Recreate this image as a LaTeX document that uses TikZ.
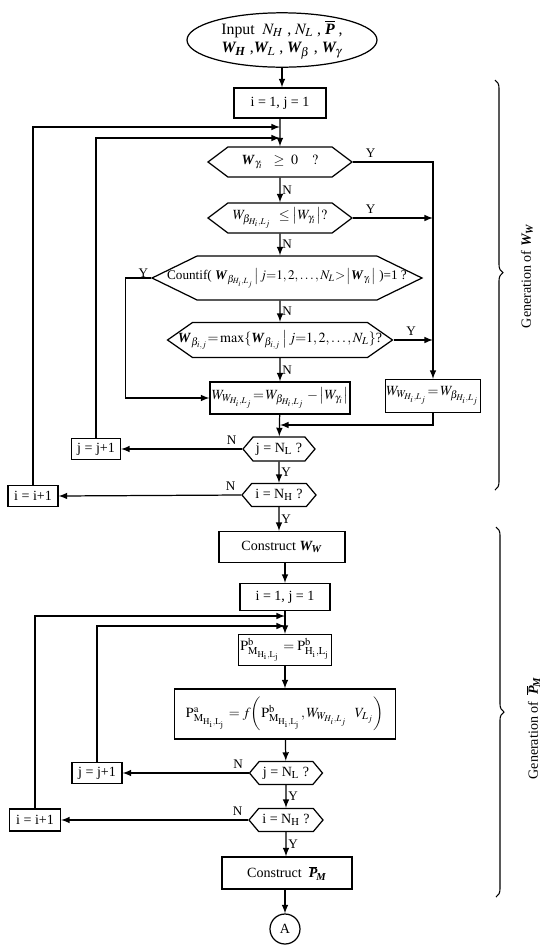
\documentclass[tikz,border=0pt]{standalone}
\usepackage{amsmath}
\usepackage{mathptmx}
\usepackage[no-math]{fontspec}
\setmainfont{Liberation Serif}
\usetikzlibrary{arrows,positioning,shapes.geometric,shapes.symbols,decorations.pathreplacing}
\newcommand{\bi}[1]{\textbf{\textit{#1}}}

\begin{document}
\begin{tikzpicture}[x=0.02cm,y=-0.02cm,>=latex,line width=0.7pt,font=\fontsize{8}{9.5}\selectfont]
    \tikzstyle{block}=[draw,rectangle,inner sep=1pt]
    \tikzstyle{test}=[draw,signal,signal to=east and west,inner sep=1pt]
    \tikzstyle{lbl}=[inner sep=1pt,font=\fontsize{7.5}{8}\selectfont]
    \useasboundingbox (0,0) rectangle (550,951);

    % generation of W_W
    \node[draw,ellipse,minimum width=3.8cm,minimum height=1.08cm,inner sep=0pt,align=center,
          font=\fontsize{9}{10.5}\selectfont] (input) at (282,40)
        {Input\ \ $N_{H}$ , $N_{L}$ , $\overline{\bi{P}}$ ,\\ $\bi{W}_{\!\bi{H}}$ ,$\bi{W}_{\!L}$ , $\bi{W}_{\!\beta}$ , $\bi{W}_{\!\gamma}$};
    \node[block,minimum width=1.84cm,minimum height=0.6cm] (init1) at (280,103) {i = 1, j = 1};
    \node[test,minimum width=2.88cm,minimum height=0.6cm,signal pointer angle=74] (hexA) at (280,162)
        {$\bi{W}_{\gamma_i}\ \ \geq\ 0\quad ?$};
    \node[test,minimum width=2.88cm,minimum height=0.6cm,signal pointer angle=74] (hexB) at (280,218)
        {$W_{\beta_{H_i,L_j}}\ \leq \left|W_{\gamma_i}\right|?$};
    \node[test,minimum width=5.4cm,minimum height=0.88cm,signal pointer angle=52,inner xsep=-0.7cm,
          font=\fontsize{7.5}{9}\selectfont] (hexC) at (287,278)
        {Countif( $\bi{W}_{\beta_{H_i,L_j}}\big|\,j{=}1,2,\ldots,N_L{>}\left|\bi{W}_{\gamma_i}\right|$ )=1 ?};
    \node[test,minimum width=4.5cm,minimum height=0.7cm,signal pointer angle=70,inner xsep=-0.4cm] (hexD) at (280,340)
        {$\bi{W}_{\beta_{i,j}}{=}\max\{\bi{W}_{\beta_{i,j}}\,\big|\,j{=}1,2,\ldots,N_L\}$?};
    \node[block,minimum width=2.6cm,minimum height=0.64cm] (boxL) at (280,398)
        {$W_{W_{H_i,L_j}}{=}\,W_{\beta_{H_i,L_j}}-\left|W_{\gamma_i}\right|$};
    \node[block,minimum width=1.52cm,minimum height=0.66cm,inner sep=0.5pt] (boxR) at (433,396)
        {$W_{W_{H_i,L_j}}{=}\,W_{\beta_{H_i,L_j}}$};
    \node[test,minimum width=1.44cm,minimum height=0.48cm,signal pointer angle=100] (hexE) at (279,449) {j = N$_\mathrm{L}$ ?};
    \node[block,minimum width=0.98cm,minimum height=0.42cm] (jinc1) at (96,449) {j = j+1};
    \node[test,minimum width=1.48cm,minimum height=0.46cm,signal pointer angle=100] (hexF) at (279,495) {i = N$_\mathrm{H}$ ?};
    \node[block,minimum width=1cm,minimum height=0.42cm] (iinc1) at (33,496) {i = i+1};
    \node[block,minimum width=2.52cm,minimum height=0.62cm] (conW) at (282,547) {Construct $\bi{W}_{\!\bi{W}}$};

    % generation of P_M
    \node[block,minimum width=1.8cm,minimum height=0.54cm] (init2) at (285,597) {i = 1, j = 1};
    \node[block,minimum width=1.68cm,minimum height=0.62cm] (pb) at (285,650)
        {$\mathrm{P}^{\mathrm{b}}_{\mathrm{M}_{\mathrm{H_i,L_j}}} = \mathrm{P}^{\mathrm{b}}_{\mathrm{H_i,L_j}}$};
    \node[block,minimum width=4.42cm,minimum height=1cm] (pa) at (285,714)
        {$\mathrm{P}^{\mathrm{a}}_{\mathrm{M}_{\mathrm{H_i,L_j}}} = f\!\left(\mathrm{P}^{\mathrm{b}}_{\mathrm{M}_{\mathrm{H_i,L_j}}}, W_{W_{H_i,L_j}}\ \ V_{L_j}\right)$};
    \node[test,minimum width=1.46cm,minimum height=0.46cm,signal pointer angle=100] (hexG) at (286,773) {j = N$_\mathrm{L}$ ?};
    \node[block,minimum width=1cm,minimum height=0.42cm] (jinc2) at (97,773) {j = j+1};
    \node[test,minimum width=1.48cm,minimum height=0.46cm,signal pointer angle=100] (hexH) at (286,820) {i = N$_\mathrm{H}$ ?};
    \node[block,minimum width=1.02cm,minimum height=0.44cm] (iinc2) at (35,820) {i = i+1};
    \node[block,minimum width=2.6cm,minimum height=0.64cm] (conP) at (287,873) {Construct\ \ $\overline{\bi{P}}_{\!\bi{M}}$};
    \node[draw,circle,minimum size=0.6cm,inner sep=0pt] (A) at (285,929) {A};

    \coordinate (in1) at (280,127);
    \coordinate (in2) at (280,138);
    \coordinate (rc) at (433,162);
    \coordinate (mj) at (280,425);
    \coordinate (lo1) at (285,616);
    \coordinate (lo2) at (285,626);

    % upper flow
    \draw[->] (input) -- (input |- init1.north);
    \draw[->] (init1) -- (hexA);
    \draw[->] (hexA) -- node[lbl,right] {N} (hexB);
    \draw[->] (hexB) -- node[lbl,right] {N} (hexB.south |- hexC.north);
    \draw[->] (hexB.south |- hexC.south) -- node[lbl,right] {N} (hexD);
    \draw[->] (hexD) -- node[lbl,right] {N} (boxL);
    \draw[->] (boxL) -- (hexE);
    \draw[->] (hexE) -- node[lbl,right] {Y} (hexF);
    \draw[->] (hexF) -- node[lbl,right] {Y} (hexF.south |- conW.north);
    \draw[->] (hexA.east) node[lbl,above right=1pt and 6pt] {Y} -- (rc) -- (boxR);
    \draw[->] (hexB.east) node[lbl,above right=1pt and 6pt] {Y} -- (rc |- hexB);
    \draw[->] (hexD.east) node[lbl,above right=1pt and 6pt] {Y} -- (rc |- hexD);
    \draw[->] (hexC.west) node[lbl,above left=-1pt and 0pt] {Y} -- ++(-25,0) |- (boxL.west);
    \draw[->] (boxR) |- (mj);
    \draw[->] (hexE.west) node[lbl,above left=1pt and 2pt] {N} -- (jinc1.east);
    \draw[->] (hexF.west) node[lbl,above left=1pt and 2pt] {N} -- (iinc1.east);
    \draw[->] (jinc1.north) |- (in2);
    \draw[->] (iinc1.north) |- (in1);

    % lower flow
    \draw[->] (init2 |- conW.south) -- (init2);
    \draw[->] (init2) -- (pb);
    \draw[->] (pb) -- (pa);
    \draw[->] (pa) -- (hexG);
    \draw[->] (hexG) -- node[lbl,right] {Y} (hexH);
    \draw[->] (hexH) -- node[lbl,right] {Y} (hexH.south |- conP.north);
    \draw[->] (conP.south -| A) -- (A);
    \draw[->] (hexG.west) node[lbl,above left=1pt and 2pt] {N} -- (jinc2.east);
    \draw[->] (hexH.west) node[lbl,above left=1pt and 2pt] {N} -- (iinc2.east);
    \draw[->] (jinc2.north) |- (lo2);
    \draw[->] (iinc2.north) |- (lo1);

    % braces
    \draw[line width=0.6pt,decorate,decoration={brace,amplitude=0.16cm,aspect=0.47}] (495,80) -- (495,490);
    \node[rotate=90] (genW) at (527,276) {Generation of $\bi{W}_{\!\bi{W}}$};
    \draw[line width=0.6pt,decorate,decoration={brace,amplitude=0.16cm,aspect=0.5}] (496,527) -- (496,897);
    \node[rotate=90] (genP) at (533,728) {Generation of\ \ $\overline{\bi{P}}_{\!\bi{M}}$};
\end{tikzpicture}
\end{document}
